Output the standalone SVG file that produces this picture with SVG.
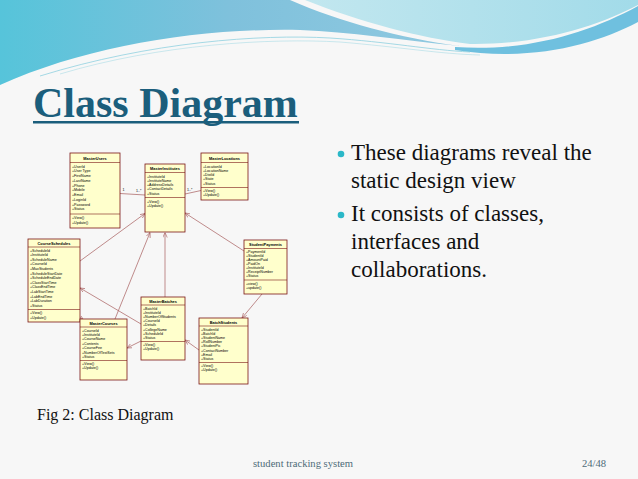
<svg xmlns="http://www.w3.org/2000/svg" width="638" height="479" viewBox="0 0 638 479">
<style>
.box{fill:#ffffcc;stroke:#7a1414;stroke-width:0.8}
.sep{stroke:#7a1414;stroke-width:0.6}
.ct{font-family:"Liberation Sans",Arial,sans-serif;font-size:3.9px;font-weight:bold;text-anchor:middle;fill:#000}
.at{font-family:"Liberation Sans",Arial,sans-serif;font-size:3.6px;fill:#000}
.cn{stroke:#a65b5b;stroke-width:0.7;fill:none}
.lbl{font-family:"Liberation Sans",Arial,sans-serif;font-size:3.6px;fill:#000}
.body{font-family:"Liberation Serif","Times New Roman",serif;font-size:23px;fill:#111}
.foot{font-family:"Liberation Serif","Times New Roman",serif;font-size:10.6px;fill:#4d6b78}
</style>
<defs>
<linearGradient id="gBlue" x1="0" y1="0" x2="1" y2="0">
<stop offset="0" stop-color="#56c4da"/>
<stop offset="0.5" stop-color="#7fc1dc"/>
<stop offset="1" stop-color="#90c9e0"/>
</linearGradient>
<linearGradient id="gLight" x1="0" y1="0" x2="1" y2="0">
<stop offset="0" stop-color="#c2e7ef"/>
<stop offset="1" stop-color="#a2dbe9"/>
</linearGradient>
<marker id="ar" viewBox="0 0 8 8" refX="8" refY="4" markerWidth="5" markerHeight="5" markerUnits="userSpaceOnUse" orient="auto">
<path d="M0,0.5 L8,4 L0,7.5" fill="none" stroke="#a65b5b" stroke-width="1"/>
</marker>
</defs>
<rect width="638" height="479" fill="#f7f7f7"/>
<g id="decor">
<path d="M305,0 C360,22 420,38 470,44 C540,45 600,25 638,5 V0 Z" fill="url(#gLight)"/>
<path d="M0,0 H290 C340,22 400,38 460,46 C400,40 350,32 300,30 C200,28 90,45 0,85 Z" fill="url(#gBlue)"/>
<path d="M455,47 C530,52 590,32 638,6 L638,22 C595,45 530,62 455,50 Z" fill="#6fc0df"/>
<path d="M40,76 C150,42 260,34 330,38 C390,42 430,50 470,52" fill="none" stroke="#8fd0e0" stroke-width="0.8"/>
<path d="M60,74 C160,44 270,38 340,42 C400,47 440,54 480,55" fill="none" stroke="#a9dbe6" stroke-width="0.6"/>
</g>
<text x="33" y="117" font-family="'Liberation Serif','Times New Roman',serif" font-size="42" font-weight="bold" fill="#1b5e7c">Class Diagram</text>
<rect x="33" y="121" width="266" height="2.5" fill="#1b5e7c"/>
<circle cx="341" cy="154" r="3.3" fill="#2bb8c8"/>
<circle cx="341" cy="215" r="3.3" fill="#2bb8c8"/>
<text class="body" x="351" y="160">These diagrams reveal the</text>
<text class="body" x="351" y="188">static design view</text>
<text class="body" x="351" y="221">It consists of classes,</text>
<text class="body" x="351" y="249">interfaces and</text>
<text class="body" x="351" y="277">collaborations.</text>
<text x="37" y="420" font-family="'Liberation Serif','Times New Roman',serif" font-size="16" fill="#111">Fig 2: Class Diagram</text>
<text class="foot" x="253" y="467">student tracking system</text>
<text class="foot" x="582" y="467">24/48</text>

<g id="connectors">
<path class="cn" d="M120,193.5 L145,195"/>
<text class="lbl" x="122.5" y="191">1</text>
<text class="lbl" x="136" y="192">1..*</text>
<path class="cn" d="M185,194 L201,190.5"/>
<text class="lbl" x="187" y="191">1..*</text>
<path class="cn" d="M80,261 L145,213.5" marker-end="url(#ar)"/>
<path class="cn" d="M244,251 L185,213" marker-end="url(#ar)"/>
<path class="cn" d="M115,319 L150,232.5" marker-end="url(#ar)"/>
<path class="cn" d="M165,297 L165,232.5" marker-end="url(#ar)"/>
<path class="cn" d="M141,324 L80,288" marker-end="url(#ar)"/>
<path class="cn" d="M141,341 L127,348" marker-end="url(#ar)"/>
<path class="cn" d="M77,315.5 L83.5,320" marker-end="url(#ar)"/>
<path class="cn" d="M199,350 L185,340" marker-end="url(#ar)"/>
<path class="cn" d="M262,294 L242,318" marker-end="url(#ar)"/>
</g>

<g id="MasterUsers">
<rect class="box" x="70" y="153" width="50" height="75"/>
<text class="ct" x="95" y="159.5">MasterUsers</text>
<line class="sep" x1="70" y1="162.5" x2="120" y2="162.5"/>
<text class="at" x="72" y="167.5">+UserId</text>
<text class="at" x="72" y="172.25">+User Type</text>
<text class="at" x="72" y="177">+FirstName</text>
<text class="at" x="72" y="181.75">+LastName</text>
<text class="at" x="72" y="186.5">+Phone</text>
<text class="at" x="72" y="191.25">+Mobile</text>
<text class="at" x="72" y="196">+Email</text>
<text class="at" x="72" y="200.75">+LoginId</text>
<text class="at" x="72" y="205.5">+Password</text>
<text class="at" x="72" y="210.25">+Status</text>
<line class="sep" x1="70" y1="214" x2="120" y2="214"/>
<text class="at" x="72" y="219">+View()</text>
<text class="at" x="72" y="223.5">+Update()</text>
</g>

<g id="MasterInstitutes">
<rect class="box" x="145" y="164" width="40" height="68"/>
<text class="ct" x="165" y="169.5">MasterInstitutes</text>
<line class="sep" x1="145" y1="172.5" x2="185" y2="172.5"/>
<text class="at" x="147" y="177.5">+InstituteId</text>
<text class="at" x="147" y="181.8">+InstituteName</text>
<text class="at" x="147" y="186.1">+AddressDetails</text>
<text class="at" x="147" y="190.4">+ContactDetails</text>
<text class="at" x="147" y="194.7">+Status</text>
<line class="sep" x1="145" y1="197.5" x2="185" y2="197.5"/>
<text class="at" x="147" y="202.5">+View()</text>
<text class="at" x="147" y="206.8">+Update()</text>
</g>

<g id="MasterLocations">
<rect class="box" x="201" y="153" width="47" height="47"/>
<text class="ct" x="224.5" y="159.5">MasterLocations</text>
<line class="sep" x1="201" y1="162.5" x2="248" y2="162.5"/>
<text class="at" x="203" y="167.5">+LocationId</text>
<text class="at" x="203" y="171.8">+LocationName</text>
<text class="at" x="203" y="176.1">+DistId</text>
<text class="at" x="203" y="180.4">+State</text>
<text class="at" x="203" y="184.7">+Status</text>
<line class="sep" x1="201" y1="187.5" x2="248" y2="187.5"/>
<text class="at" x="203" y="192">+View()</text>
<text class="at" x="203" y="196.3">+Update()</text>
</g>

<g id="CourseSchedules">
<rect class="box" x="28" y="239" width="52" height="83"/>
<text class="ct" x="54" y="244.5">CourseSchedules</text>
<line class="sep" x1="28" y1="247" x2="80" y2="247"/>
<text class="at" x="30" y="251.5">+ScheduleId</text>
<text class="at" x="30" y="256.1">+InstituteId</text>
<text class="at" x="30" y="260.7">+ScheduleName</text>
<text class="at" x="30" y="265.3">+CourseId</text>
<text class="at" x="30" y="269.9">+MaxStudents</text>
<text class="at" x="30" y="274.5">+ScheduleStartDate</text>
<text class="at" x="30" y="279.1">+ScheduleEndDate</text>
<text class="at" x="30" y="283.7">+ClassStartTime</text>
<text class="at" x="30" y="288.3">+ClassEndTime</text>
<text class="at" x="30" y="292.9">+LabStartTime</text>
<text class="at" x="30" y="297.5">+LabEndTime</text>
<text class="at" x="30" y="302.1">+LabDuration</text>
<text class="at" x="30" y="306.7">+Status</text>
<line class="sep" x1="28" y1="309.5" x2="80" y2="309.5"/>
<text class="at" x="30" y="314">+View()</text>
<text class="at" x="30" y="318.5">+Update()</text>
</g>

<g id="StudentPayments">
<rect class="box" x="244" y="240" width="43" height="54"/>
<text class="ct" x="265.5" y="245.5">StudentPayments</text>
<line class="sep" x1="244" y1="248.5" x2="287" y2="248.5"/>
<text class="at" x="246" y="253">+PaymentId</text>
<text class="at" x="246" y="257">+StudentId</text>
<text class="at" x="246" y="261">+AmountPaid</text>
<text class="at" x="246" y="265">+PaidOn</text>
<text class="at" x="246" y="269">+InstituteId</text>
<text class="at" x="246" y="273">+ReceiptNumber</text>
<text class="at" x="246" y="277">+Status</text>
<line class="sep" x1="244" y1="280" x2="287" y2="280"/>
<text class="at" x="246" y="284.5">+view()</text>
<text class="at" x="246" y="288.5">+update()</text>
</g>

<g id="MasterBatches">
<rect class="box" x="141" y="297" width="44" height="63"/>
<text class="ct" x="163" y="302.5">MasterBatches</text>
<line class="sep" x1="141" y1="305" x2="185" y2="305"/>
<text class="at" x="143" y="309.5">+BatchId</text>
<text class="at" x="143" y="313.7">+InstituteId</text>
<text class="at" x="143" y="317.9">+NumberOfStudents</text>
<text class="at" x="143" y="322.1">+CourseId</text>
<text class="at" x="143" y="326.3">+Details</text>
<text class="at" x="143" y="330.5">+CollegeName</text>
<text class="at" x="143" y="334.7">+ScheduleId</text>
<text class="at" x="143" y="338.9">+Status</text>
<line class="sep" x1="141" y1="341.5" x2="185" y2="341.5"/>
<text class="at" x="143" y="346">+View()</text>
<text class="at" x="143" y="350.3">+Update()</text>
</g>

<g id="MasterCourses">
<rect class="box" x="80" y="319" width="47" height="61"/>
<text class="ct" x="103.5" y="324.5">MasterCourses</text>
<line class="sep" x1="80" y1="327" x2="127" y2="327"/>
<text class="at" x="82" y="331.5">+CourseId</text>
<text class="at" x="82" y="335.9">+InstituteId</text>
<text class="at" x="82" y="340.3">+CourseName</text>
<text class="at" x="82" y="344.7">+Contents</text>
<text class="at" x="82" y="349.1">+CourseFee</text>
<text class="at" x="82" y="353.5">+NumberOfTestSets</text>
<text class="at" x="82" y="357.9">+Status</text>
<line class="sep" x1="80" y1="360.5" x2="127" y2="360.5"/>
<text class="at" x="82" y="365">+View()</text>
<text class="at" x="82" y="369.3">+Update()</text>
</g>

<g id="BatchStudents">
<rect class="box" x="199" y="318" width="49" height="66"/>
<text class="ct" x="223.5" y="323.5">BatchStudents</text>
<line class="sep" x1="199" y1="326" x2="248" y2="326"/>
<text class="at" x="201" y="330.5">+StudentId</text>
<text class="at" x="201" y="334.7">+BatchId</text>
<text class="at" x="201" y="338.9">+StudentName</text>
<text class="at" x="201" y="343.1">+RollNumber</text>
<text class="at" x="201" y="347.3">+StudentPic</text>
<text class="at" x="201" y="351.5">+ContactNumber</text>
<text class="at" x="201" y="355.7">+Email</text>
<text class="at" x="201" y="359.9">+Status</text>
<line class="sep" x1="199" y1="362.5" x2="248" y2="362.5"/>
<text class="at" x="201" y="367">+View()</text>
<text class="at" x="201" y="371.3">+Update()</text>
</g>
</svg>
